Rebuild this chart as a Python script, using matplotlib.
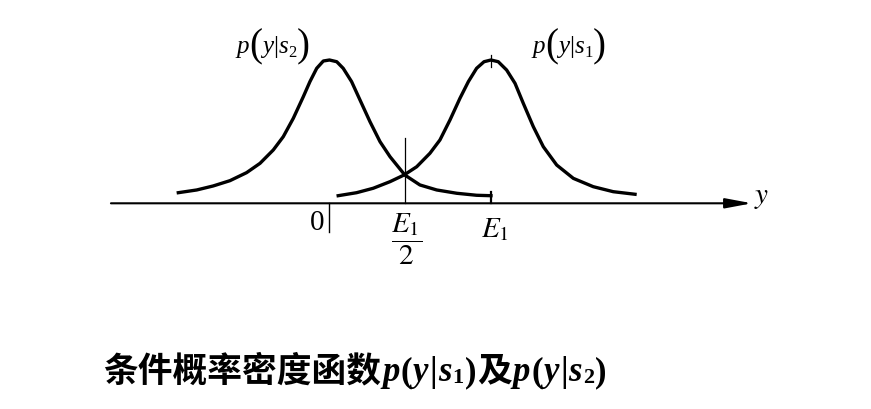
import matplotlib
matplotlib.use('Agg')
import matplotlib.pyplot as plt

plt.rcParams['mathtext.fontset'] = 'stix'
plt.rcParams['font.family'] = ['Liberation Serif', 'DejaVu Serif']

# points (x in units of E1, y relative to peak)
s2_x = [-0.936, -0.822, -0.720, -0.616, -0.513, -0.430, -0.348, -0.286, -0.224,
        -0.162, -0.121, -0.079, -0.038, 0.0, 0.045, 0.085, 0.137, 0.189, 0.251,
        0.313, 0.375, 0.467, 0.560, 0.664, 0.788, 0.911, 1.0]
s2_y = [0.074, 0.093, 0.121, 0.158, 0.214, 0.279, 0.372, 0.465, 0.593,
        0.744, 0.849, 0.942, 0.993, 1.0, 0.988, 0.942, 0.849, 0.721, 0.569,
        0.430, 0.325, 0.197, 0.128, 0.093, 0.070, 0.056, 0.053]

s1_x = [0.054, 0.168, 0.271, 0.375, 0.461, 0.540, 0.622, 0.684, 0.746, 0.808,
        0.860, 0.911, 0.957, 1.0, 1.045, 1.097, 1.149, 1.200, 1.262, 1.324,
        1.407, 1.510, 1.633, 1.757, 1.892]
s1_y = [0.053, 0.074, 0.105, 0.151, 0.197, 0.255, 0.349, 0.442, 0.581, 0.733,
        0.849, 0.942, 0.988, 1.0, 0.988, 0.930, 0.837, 0.698, 0.535, 0.395,
        0.267, 0.174, 0.116, 0.081, 0.063]

x_ticks = [0.0, 0.467, 1.0]
x_labels = ['0', r'$\dfrac{E_1}{2}$', r'$E_1$']
curve_names = [('s', '2'), ('s', '1')]

W, H = 871, 409
fig = plt.figure(figsize=(W / 100, H / 100), dpi=100)
ax = fig.add_axes([0, 0, 1, 1])
ax.set_xlim(-2.040, 3.353)
ax.set_ylim(-1.4355, 1.4187)
ax.axis('off')

ax.plot(s2_x, s2_y, color='black', lw=2.4, solid_joinstyle='round')
ax.plot(s1_x, s1_y, color='black', lw=2.4, solid_joinstyle='round')

# horizontal axis with arrow
ax.annotate('', xy=(2.616, 0), xytext=(-1.353, 0),
            arrowprops=dict(arrowstyle='-|>,head_length=1.6,head_width=0.3',
                            lw=1.5, color='black', mutation_scale=10,
                            shrinkA=0, shrinkB=0))
ax.text(2.63, 0.0, r'$y$', fontsize=21, ha='left', va='baseline')

# markers on the axis
ax.plot([0, 0], [0, -0.20], color='black', lw=1.0)
ax.plot([x_ticks[1], x_ticks[1]], [0, 0.453], color='black', lw=0.9)
ax.plot([1.0, 1.0], [0, 0.081], color='black', lw=1.6)
ax.plot([1.0, 1.0], [0.953, 1.035], color='black', lw=0.9)

ax.text(-0.034, -0.137, x_labels[0], fontsize=21, ha='right', va='center')
ax.text(0.478, -0.250, x_labels[1], fontsize=21, ha='center', va='center')
ax.text(1.025, -0.186, x_labels[2], fontsize=21, ha='center', va='center')

renderer = fig.canvas.get_renderer()


def chain(x_px, base_px, pieces):
    # place text pieces one after another on a common baseline (pixels from top)
    for s, kw, dy, gap in pieces:
        t = fig.text(x_px / W, 1 - (base_px + dy) / H, s,
                     ha='left', va='baseline', **kw)
        bb = t.get_window_extent(renderer)
        x_px = bb.x1 + gap


it = dict(family=['Liberation Serif'], style='italic', fontsize=18)
rm = dict(family=['Liberation Serif'], fontsize=18)
big = dict(family=['Liberation Serif'], fontsize=28)
small = dict(family=['Liberation Serif'], fontsize=12)

for (sym, num), (lx, ly) in zip(curve_names, [(-0.573, 1.049), (1.260, 1.049)]):
    px, py = ax.transData.transform((lx, ly))
    chain(px, H - py, [('p', it, 0, 0), ('(', big, 3, 0), ('y', it, 0, 0),
                       ('|', rm, 0, 0), (sym, it, 0, 0), (num, small, 4, 0),
                       (')', big, 3, 0)])

# caption, built from pieces so the Latin part can be bold italic serif
cjk = dict(family=['Noto Sans CJK SC'], fontweight='bold', fontsize=25)
bi = dict(family=['Liberation Serif'], fontweight='bold', style='italic', fontsize=25)
bu = dict(family=['Liberation Serif'], fontweight='bold', fontsize=25)
sub = dict(family=['Liberation Serif'], fontweight='bold', fontsize=16)
caption = [('条件概率密度函数', cjk, 0, 1),
           ('p', bi, 0, 1), ('(', bu, 0, 1), ('y', bi, 0, 1), ('|', bu, 0, 1),
           ('s', bi, 0, 1), ('1', sub, 2, 1), (')', bu, 0, 1),
           ('及', cjk, 0, 1),
           ('p', bi, 0, 1), ('(', bu, 0, 1), ('y', bi, 0, 1), ('|', bu, 0, 1),
           ('s', bi, 0, 1), ('2', sub, 2, 1), (')', bu, 0, 1)]
chain(103, 381, caption)

fig.savefig('out.png', dpi=100)
